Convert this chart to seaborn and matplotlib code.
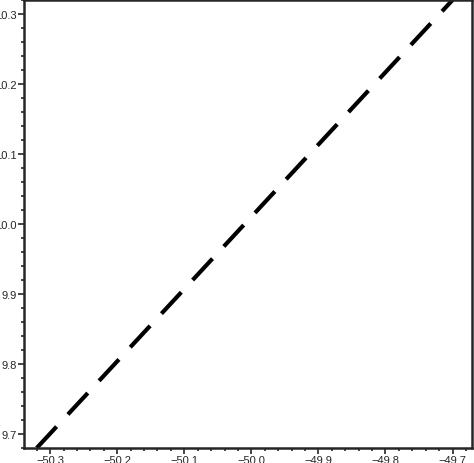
import matplotlib
matplotlib.use("Agg")
import matplotlib.pyplot as plt
import seaborn as sns
import numpy as np
import pandas as pd
from matplotlib.ticker import MultipleLocator

sns.set_style("ticks")
plt.rcParams['font.family'] = ['Liberation Sans', 'DejaVu Sans']

line_x = [-50.32, -49.70]
line_y = [9.68, 10.32]
xticks = [-50.3, -50.2, -50.1, -50.0, -49.9, -49.8, -49.7]
yticks = [9.7, 9.8, 9.9, 10.0, 10.1, 10.2, 10.3]

fig = plt.figure(figsize=(4.74, 4.64), dpi=100)
ax = fig.add_axes([24/474, 15/464, 448/474, 448/464])
df = pd.DataFrame({"x": line_x, "y": line_y})
sns.lineplot(data=df, x="x", y="y", ax=ax, color="black", linewidth=3, dashes=False)
ax.lines[0].set_dashes([7, 4])
ax.set_xlim(-50.339, -49.671)
ax.set_ylim(9.68, 10.32)
ax.set_xticks(xticks)
ax.set_yticks(yticks)
ax.set_xticklabels([f"\u2212{abs(v):.1f}" for v in xticks])
ax.set_yticklabels([f"{v:.1f}" for v in yticks])
ax.xaxis.set_minor_locator(MultipleLocator(0.02))
ax.yaxis.set_minor_locator(MultipleLocator(0.02))
ax.tick_params(which="both", direction="out", labelsize=8, width=1.2)
ax.tick_params(which="major", length=4, pad=1)
ax.tick_params(which="minor", length=2)
ax.set_xlabel("")
ax.set_ylabel("")
for s in ax.spines.values():
    s.set_linewidth(1.8)
    s.set_visible(True)
fig.savefig("out.png", dpi=100)
